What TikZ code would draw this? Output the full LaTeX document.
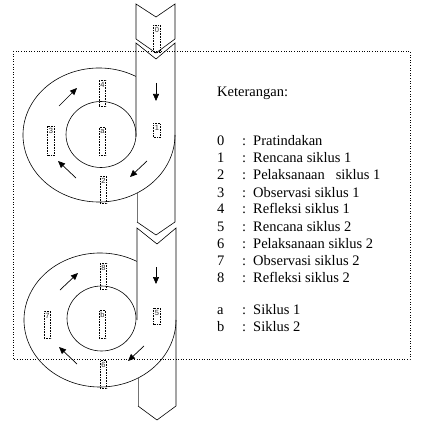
\documentclass[tikz,border=0pt]{standalone}
\usepackage{fontspec}
\setmainfont{Liberation Serif}
\setsansfont{Liberation Sans}
\usetikzlibrary{arrows.meta}
\tikzset{
  shape line/.style={draw=black, line width=0.6pt, line join=miter},
  gray line/.style={draw=black!55, line width=0.8pt},
  flow/.style={draw=black, line width=0.7pt, -{Triangle[length=7pt,width=6pt]}},
  lblbox/.style={draw=black, densely dotted, line width=0.6pt, inner sep=0pt, minimum width=6.5pt, anchor=north},
  lbltxt/.style={font=\sffamily\fontsize{7.5}{8}\selectfont, inner sep=0pt, anchor=north, text=black!80},
  frame/.style={draw=black, dotted, line width=0.6pt},
  legend/.style={font=\fontsize{14.5}{15}\selectfont, inner sep=0pt, anchor=base west},
}
\newcommand{\mylabelbox}[6]{%
  \node[lblbox, minimum height=#4pt] (#1) at (#2,#3) {};
  \node[lbltxt] (#1t) at (#2,#5) {#6};
}
\newcommand{\legendrow}[5]{%
  \node[legend] (n#1) at (217,#2) {#3};
  \node[legend] (c#1) at (242,#2) {:};
  \node[legend] (t#1) at (253,#2) {#4#5};
}
\begin{document}
\begin{tikzpicture}[x=1pt,y=-1pt]
\useasboundingbox (0,0) rectangle (421,427);

% ---------- cycle 1 ----------
\draw[shape line] (136,4) -- (156,17) -- (175,4) -- (175,39) -- (156,53) -- (136,39) -- cycle;
\draw[shape line] (136,137) -- (136,43) -- (156,59) -- (175,43) -- (175,222) -- (156,235);
\draw[gray line] (137,193) -- (137,222);
\draw[shape line] (137,222) -- (156,235);
\draw[shape line] (99,135) ++(-61:76 and 67) arc[start angle=-61, end angle=-360, x radius=76, y radius=67];
\draw[shape line] (101,134.5) ellipse [x radius=35, y radius=33];

% ---------- cycle 2 ----------
\draw[shape line] (137,320) -- (137,228) -- (157,244) -- (176,228) -- (176,406) -- (157,420);
\draw[gray line] (138,378) -- (138,406);
\draw[shape line] (138,406) -- (157,420);
\draw[shape line] (100,320) ++(-61:76 and 67) arc[start angle=-61, end angle=-360, x radius=76, y radius=67];
\draw[shape line] (101.5,318.5) ellipse [x radius=34.5, y radius=32.5];

% ---------- arrows ----------
\coordinate (a1s) at (156,83);  \coordinate (a1e) at (156,101);
\coordinate (a2s) at (147,161); \coordinate (a2e) at (130,177);
\coordinate (a3s) at (76,178);  \coordinate (a3e) at (58,161);
\coordinate (a4s) at (59,106);  \coordinate (a4e) at (77,88);
\draw[flow] (a1s) -- (a1e);
\draw[flow] (a2s) -- (a2e);
\draw[flow] (a3s) -- (a3e);
\draw[flow] (a4s) -- (a4e);
\coordinate (b1s) at (156,267); \coordinate (b1e) at (156,284);
\coordinate (b2s) at (144,346); \coordinate (b2e) at (128,361);
\coordinate (b3s) at (77,364);  \coordinate (b3e) at (59,347);
\coordinate (b4s) at (60,290);  \coordinate (b4e) at (78,273);
\draw[flow] (b1s) -- (b1e);
\draw[flow] (b2s) -- (b2e);
\draw[flow] (b3s) -- (b3e);
\draw[flow] (b4s) -- (b4e);

% ---------- label boxes ----------
\mylabelbox{l0}{157}{25}{27}{27}{0}
\mylabelbox{l4}{102.5}{80}{26}{82}{4}
\mylabelbox{l1}{157}{123}{14}{125}{1}
\mylabelbox{l3}{51}{126}{29}{128}{3}
\mylabelbox{la}{102.5}{127}{28}{129}{a}
\mylabelbox{l2}{103.5}{176}{27}{178}{2}
\mylabelbox{l8}{103.5}{263}{26}{265}{8}
\mylabelbox{l5}{157}{308}{16}{310}{5}
\mylabelbox{l7}{47.5}{311}{27}{313}{7}
\mylabelbox{lb}{102.5}{310}{28}{312}{b}
\mylabelbox{l6}{103.5}{360}{28}{362}{6}

% ---------- frame ----------
\draw[frame] (13,51) rectangle (410,359);

% ---------- legend ----------
\node[legend] (kt) at (217,97) {Keterangan:};
\legendrow{0}{146}{0}{Pratindakan}{}
\legendrow{1}{163}{1}{Rencana siklus 1}{}
\legendrow{2}{180}{2}{Pelaksanaan\ \ \ }{siklus 1}
\legendrow{3}{197}{3}{Observasi siklus 1}{}
\legendrow{4}{214}{4}{Refleksi siklus 1}{}
\legendrow{5}{231}{5}{Rencana siklus 2}{}
\legendrow{6}{248}{6}{Pelaksanaan siklus 2}{}
\legendrow{7}{265}{7}{Observasi siklus 2}{}
\legendrow{8}{282}{8}{Refleksi siklus 2}{}
\legendrow{a}{314.5}{a}{Siklus 1}{}
\legendrow{b}{331.5}{b}{Siklus 2}{}
\end{tikzpicture}
\end{document}
